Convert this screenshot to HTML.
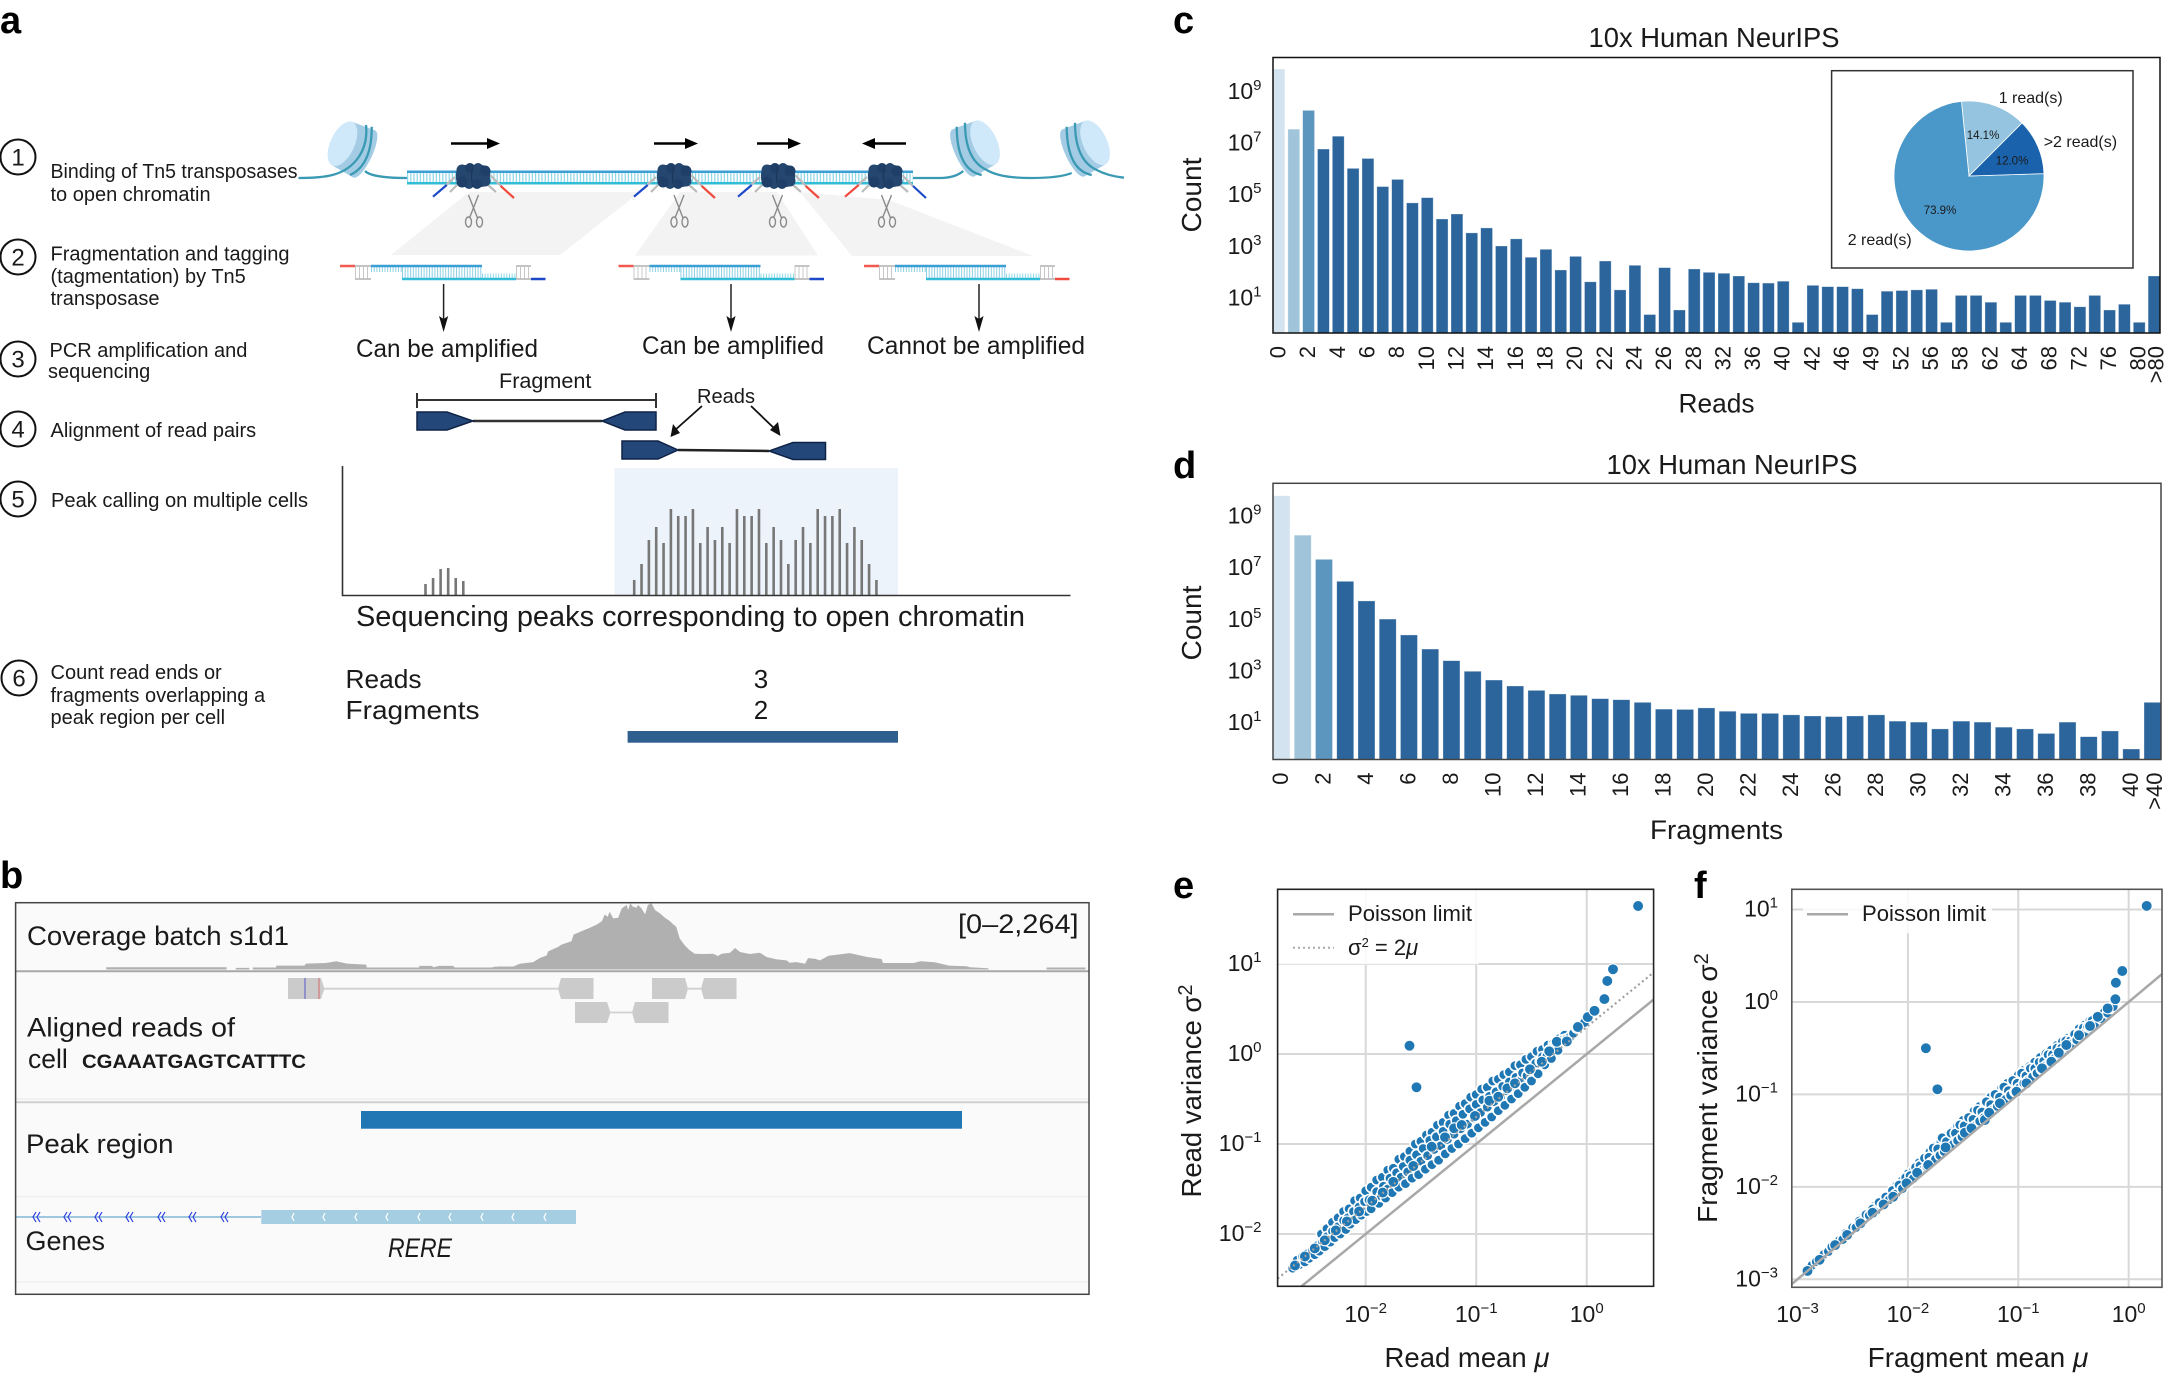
<!DOCTYPE html>
<html lang="en">
<head>
<meta charset="utf-8">
<title>Single-cell ATAC-seq read and fragment counts</title>
<style>
html,body{margin:0;padding:0;background:#fff;width:2167px;height:1374px;overflow:hidden}
svg{position:absolute;left:0;top:0;display:block}
text{font-family:"Liberation Sans",sans-serif;fill:#1a1a1a}
.ps{font-size:20px}
.lb{font-size:38px;font-weight:bold;fill:#000}
.big{font-size:24.7px}
.igv{font-size:26.5px}
</style>
</head>
<body>
<svg id="fig" xmlns="http://www.w3.org/2000/svg" width="2167" height="1374" viewBox="0 0 2167 1374">
<defs>
<g id="tn5-blob">
  <rect x="-17" y="-11" width="34" height="22" rx="9" fill="#25476f"/>
  <circle cx="-11" cy="-6" r="5.500" fill="#25476f"/><circle cx="-3" cy="-8" r="5" fill="#1f3f68"/>
  <circle cx="5" cy="-8" r="5" fill="#25476f"/><circle cx="12" cy="-5" r="5.500" fill="#1f3f68"/>
  <circle cx="12" cy="5" r="5.500" fill="#25476f"/><circle cx="4" cy="8" r="5" fill="#1f3f68"/>
  <circle cx="-4" cy="8" r="5" fill="#25476f"/><circle cx="-11" cy="6" r="5.500" fill="#1f3f68"/>
  <path d="M0-10Q-3 0 0 11" stroke="#1a3558" stroke-width="1" fill="none"/>
</g>
<g id="scissors" fill="none" stroke="#8a8a8a" stroke-width="1.400">
  <path d="M-5-16L4 7M5-16L-4 7"/><ellipse cx="-5" cy="11" rx="3" ry="5"/><ellipse cx="6" cy="11" rx="3" ry="5"/>
</g>
<g id="fragment-body">
  <path d="M15 0H31M15 13H31M176 0H191M176 13H191" stroke="#c4c4c4" stroke-width="2"/>
  <path d="M15 6.500H31M176 6.500H191" stroke="#c8c8c8" stroke-width="11" stroke-dasharray="1 3"/>
  <path d="M31 3.500H62" stroke="#8fd0e6" fill="none" stroke-width="5" stroke-dasharray="1 1.700"/>
  <path d="M62 6.500H142" stroke="#8fd0e6" stroke-width="11" stroke-dasharray="1 1.700"/>
  <path d="M142 10H176" stroke="#8fdbe6" stroke-width="5" stroke-dasharray="1 1.700"/>
  <path d="M31 0H142" stroke="#3b9fd6" stroke-width="2.500"/>
  <path d="M62 13H176" stroke="#33bcd6" stroke-width="2.500"/>
  <path d="M0 0H15" stroke="#f15a4f" stroke-width="2.500"/>
</g>
<g id="nucleosome-body">
  <path d="M-10-24L14-26A8 26 0 0 1 14 26L-10 24Z" fill="#a3cce4"/>
  <ellipse cx="-10" cy="0" rx="12" ry="24" fill="#cfe9fa"/>
</g>
</defs>

<!-- PANEL A -->
<g id="panel-a">
<text class="lb" x="0" y="33">a</text>
<g fill="none" stroke="#111" stroke-width="2">
  <circle cx="18" cy="157" r="17.500"/><circle cx="18" cy="257" r="17.500"/><circle cx="18" cy="359" r="17.500"/>
  <circle cx="18" cy="429" r="17.500"/><circle cx="18" cy="499" r="17.500"/><circle cx="19" cy="678" r="17.500"/>
</g>
<g font-size="24" text-anchor="middle">
  <text x="18" y="165.500">1</text><text x="18" y="265.500">2</text><text x="18" y="367.500">3</text>
  <text x="18" y="437.500">4</text><text x="18" y="507.500">5</text><text x="19" y="686.500">6</text>
</g>
<g class="ps">
  <text class="ps" x="50.500" y="178" textLength="247" lengthAdjust="spacingAndGlyphs">Binding of Tn5 transposases</text>
  <text class="ps" x="50.500" y="201">to open chromatin</text>
  <text class="ps" x="50.500" y="260.500">Fragmentation and tagging</text>
  <text class="ps" x="50.500" y="283">(tagmentation) by Tn5</text>
  <text class="ps" x="50.500" y="305">transposase</text>
  <text class="ps" x="49.500" y="357">PCR amplification and</text>
  <text class="ps" x="48" y="378">sequencing</text>
  <text class="ps" x="50.500" y="437">Alignment of read pairs</text>
  <text class="ps" x="51" y="507" textLength="257" lengthAdjust="spacingAndGlyphs">Peak calling on multiple cells</text>
  <text class="ps" x="50.500" y="679">Count read ends or</text>
  <text class="ps" x="50.500" y="702">fragments overlapping a</text>
  <text class="ps" x="50.500" y="724">peak region per cell</text>
</g>

<g fill="#f3f3f3">
  <polygon points="469,192 640,192 560,255 391,255"/>
  <polygon points="680,192 777,192 818,255.500 635,255.500"/>
  <polygon points="800,192 889,200 1033,256 852,256"/>
</g>

<use href="#nucleosome-body" transform="translate(351.500 148) rotate(25)"/>
<use href="#nucleosome-body" transform="translate(976 147) scale(-1 1) rotate(25)"/>
<use href="#nucleosome-body" transform="translate(1086 147) scale(-1 1) rotate(25)"/>
<g fill="none" stroke="#3a9ab3" stroke-width="2.300">
  <path d="M298.500 178C325 178 345 176 358 158Q368 144 366 125"/>
  <path d="M371.700 126.700Q372 165 350 175"/>
  <path d="M365 171Q372 178 407 178"/>
  <path d="M913 178H940Q955 178 963.300 171"/>
  <path d="M956.700 126.700Q957 170 981.700 175"/>
  <path d="M965 122.700Q965 160 986.700 170Q1000 178 1030 178Q1060 178 1071.700 173"/>
  <path d="M1066.700 126.700Q1067 170 1091.700 175"/>
  <path d="M1075 122.700Q1075 160 1096.700 170Q1108 176 1124 177.700"/>
</g>

<g>
  <path d="M407 177.500H913" stroke="#8fd6e8" stroke-width="10" stroke-dasharray="1.200 2"/>
  <path d="M407 171.700H913" stroke="#3b9fd6" stroke-width="2.500"/>
  <path d="M407 183.300H913" stroke="#33bcd6" stroke-width="2.500"/>
</g>
<g fill="none" stroke-width="2.200">
  <path d="M455 177L446 185M457 185L450 192M490 175L501 186M488 185L496 192M656 177L647 185M658 185L651 192M691 175L702 186M689 185L697 192M760 177L751 185M762 185L755 192M795 175L806 186M793 185L801 192M867 177L858 185M869 185L862 192M902 175L913 186M900 185L908 192" stroke="#bbb"/>
  <path d="M446.700 185L433 196.700M647.700 185L634 196.700M751.700 185L738 196.700M913 186L926 198" stroke="#1c49c8"/>
  <path d="M500.700 186L514 198M701.700 186L715 198M805.700 186L819 198M858.700 185L845 196.700" stroke="#ef4b3e"/>
</g>
<use href="#tn5-blob" x="473" y="176"/>
<use href="#tn5-blob" x="674" y="176"/>
<use href="#tn5-blob" x="778" y="176"/>
<use href="#tn5-blob" x="885" y="176"/>
<use href="#scissors" x="473.500" y="211"/>
<use href="#scissors" x="679" y="211"/>
<use href="#scissors" x="777.500" y="211"/>
<use href="#scissors" x="886.500" y="211"/>
<g fill="#000" stroke="none">
  <path d="M451 142.300H487V138L500 143.500L487 149V144.700H451Z"/>
  <path d="M654 142.300H685V138L698 143.500L685 149V144.700H654Z"/>
  <path d="M757 142.300H788V138L801 143.500L788 149V144.700H757Z"/>
  <path d="M906 142.300H875V138L862 143.500L875 149V144.700H906Z"/>
</g>

<use href="#fragment-body" x="340" y="266"/>
<use href="#fragment-body" x="618.500" y="266"/>
<use href="#fragment-body" x="864" y="266"/>
<path d="M531 279H545.500M809.500 279H824" stroke="#1c49c8" stroke-width="2.500"/>
<path d="M1055 279H1069.500" stroke="#ef4b3e" stroke-width="2.500"/>
<g>
  <path d="M443.600 284V320M731 284V320M979 284V320" stroke="#222" stroke-width="1.500"/>
  <path d="M439 316L443.600 332L448.200 316L443.600 319ZM726.400 316L731 332L735.600 316L731 319ZM974.400 316L979 332L983.600 316L979 319Z" fill="#111"/>
</g>
<text class="big" x="356" y="357" textLength="182" lengthAdjust="spacingAndGlyphs">Can be amplified</text>
<text class="big" x="642" y="354" textLength="182" lengthAdjust="spacingAndGlyphs">Can be amplified</text>
<text class="big" x="867" y="354" textLength="218" lengthAdjust="spacingAndGlyphs">Cannot be amplified</text>

<text x="499" y="388" font-size="21.600" textLength="92.400" lengthAdjust="spacingAndGlyphs">Fragment</text>
<path d="M417 393V408M656 393V408M417 400H656" stroke="#333" stroke-width="2" fill="none"/>
<g>
  <path d="M473 421H602" stroke="#333" stroke-width="2.500"/>
  <path d="M417 412H447L473 421L447 430H417Z M656 412H625L602 421L625 430H656Z" fill="#24477a" stroke="#0f2346" stroke-width="1.500"/>
</g>
<text x="697" y="403" font-size="20.500" textLength="58" lengthAdjust="spacingAndGlyphs">Reads</text>
<g>
  <path d="M678 450L769 451" stroke="#222" stroke-width="2.500"/>
  <path d="M622 441H658L678 450L658 459H622Z M825.500 442.500H793L769 451L793 459.500H825.500Z" fill="#24477a" stroke="#0f2346" stroke-width="1.500"/>
</g>
<g stroke="#111" stroke-width="1.800" fill="#111">
  <path d="M702 406L674 431" fill="none"/><path d="M670.500 437L673 424L680 433Z" stroke="none"/>
  <path d="M751 406L777 431" fill="none"/><path d="M780.500 436L770 430L778 422Z" stroke="none"/>
</g>

<g id="peak-chart"></g>
<text x="356" y="626" font-size="28.500" textLength="669" lengthAdjust="spacingAndGlyphs">Sequencing peaks corresponding to open chromatin</text>
<text x="345.500" y="688" font-size="26" textLength="76" lengthAdjust="spacingAndGlyphs">Reads</text>
<text x="345.500" y="719" font-size="26" textLength="134" lengthAdjust="spacingAndGlyphs">Fragments</text>
<text x="761" y="688" font-size="26" text-anchor="middle">3</text>
<text x="761" y="719" font-size="26" text-anchor="middle">2</text>
<rect x="627.600" y="731" width="270.400" height="11.700" fill="#2e5f8e"/>
</g>

<!-- PANEL B -->
<g id="panel-b">
<text class="lb" x="0" y="888">b</text>
<rect x="15.600" y="902.700" width="1073.400" height="391.600" fill="#fafafa"/>
<path id="coverage-area" fill="#b0b0b0"/>
<g fill="none">
  <path d="M15.600 971.300H1089" stroke="#a8a8a8" stroke-width="2"/>
  <path d="M15.600 1099H1089" stroke="#eeeeee" stroke-width="1.500"/>
  <path d="M15.600 1102.300H1089" stroke="#cfcfcf" stroke-width="2"/>
  <path d="M15.600 1196.700H1089" stroke="#f0f0f0" stroke-width="1.500"/>
  <path d="M15.600 1282H1089" stroke="#f0f0f0" stroke-width="1.500"/>
</g>
<g>
  <path d="M324 988.700H558M688 988.700H701M610.500 1012.500H632" stroke="#d0d0d0" stroke-width="1.800"/>
  <path d="M288 978H321L324.400 988.700L321 999H288Z M561 978H593.500V999H561L558 988.700Z M652 978H685L688 988.700L685 999H652Z M704 978H736.500V999H704L701 988.700Z M575 1002H607L610.500 1012.500L607 1023H575Z M635 1002H668.500V1023H635L632 1012.500Z" fill="#cbcbcb"/>
  <path d="M305 978V999" stroke="#5a5ac8" stroke-width="1"/>
  <path d="M319 978V999" stroke="#d46a6a" stroke-width="1"/>
</g>
<rect x="361" y="1111" width="601" height="17.700" fill="#2077b4"/>
<g>
  <path d="M15.600 1217H261" stroke="#9fc8e0" stroke-width="2"/>
  <path d="M36 1212L33 1217L36 1222M40 1212L37 1217L40 1222M67 1212L64 1217L67 1222M71 1212L68 1217L71 1222M98 1212L95 1217L98 1222M102 1212L99 1217L102 1222M129 1212L126 1217L129 1222M133 1212L130 1217L133 1222M161 1212L158 1217L161 1222M165 1212L162 1217L165 1222M192 1212L189 1217L192 1222M196 1212L193 1217L196 1222M224 1212L221 1217L224 1222M228 1212L225 1217L228 1222" fill="none" stroke="#2b3fe0" stroke-width="1.200"/>
  <rect x="261.300" y="1210" width="314.700" height="14" fill="#a6cee3"/>
  <path d="M294 1213L292 1217L294 1221M325 1213L323 1217L325 1221M357 1213L355 1217L357 1221M388 1213L386 1217L388 1221M420 1213L418 1217L420 1221M451 1213L449 1217L451 1221M483 1213L481 1217L483 1221M514 1213L512 1217L514 1221M546 1213L544 1217L546 1221" fill="none" stroke="#fff" stroke-width="1.200"/>
</g>
<rect x="15.600" y="902.700" width="1073.400" height="391.600" fill="none" stroke="#444" stroke-width="1.500"/>
<text class="igv" x="27" y="945" textLength="262" lengthAdjust="spacingAndGlyphs">Coverage batch s1d1</text>
<text class="igv" x="958" y="933" textLength="120.600" lengthAdjust="spacingAndGlyphs">[0–2,264]</text>
<text class="igv" x="27" y="1036.700" textLength="208" lengthAdjust="spacingAndGlyphs">Aligned reads of</text>
<text class="igv" x="28" y="1068">cell</text>
<text x="82" y="1068" font-size="19.600" font-weight="bold" textLength="224" lengthAdjust="spacingAndGlyphs">CGAAATGAGTCATTTC</text>
<text class="igv" x="26" y="1153" textLength="147.500" lengthAdjust="spacingAndGlyphs">Peak region</text>
<text class="igv" x="25.500" y="1250" textLength="79.500" lengthAdjust="spacingAndGlyphs">Genes</text>
<text class="igv" x="388" y="1257" font-style="italic" textLength="64" lengthAdjust="spacingAndGlyphs">RERE</text>
</g>

<text class="lb" x="1173" y="33">c</text>
<text class="lb" x="1173" y="478">d</text>
<text class="lb" x="1173" y="898">e</text>
<text class="lb" x="1694" y="898">f</text>

<g id="panel-c"></g>
<g id="panel-d"></g>
<g id="panel-e"></g>
<g id="panel-f"></g>
</svg>

<script>
/* ---------- DATA ---------- */
var readCounts = [6.4e9,3e7,1.6e8,5.1e6,1.6e7,9.1e5,2.2e6,1.8e5,3.4e5,4.2e4,6.7e4,1.0e4,1.56e4,2900,4500,900,1700,330,670,106,357,37,236,18,161,2,131,3,116,86,79,62,34,33,39,1,27,24,24,20,2,16,17,18,19,1,11,11,6,1,11,11,7,6,4,11,3,5,1,62];
var readTickLabels = ['0','2','4','6','8','10','12','14','16','18','20','22','24','26','28','32','36','40','42','46','49','52','56','58','62','64','68','72','76','80','>80'];
var fragmentCounts = [6.4e9,1.9e8,2.2e7,3.1e6,5.4e5,1.07e5,2.6e4,7400,2630,1020,468,275,186,135,120,89,81,64,35,34,39,29,24,24,21,19,18,19,21,12,11,6,12,11,7,6,4,11,3,5,1,64];
var fragmentTickLabels = ['0','2','4','6','8','10','12','14','16','18','20','22','24','26','28','30','32','34','36','38','40','>40'];
var countTickExponents = [1,3,5,7,9];
var pieLabels = ['1 read(s)','2 read(s)','>2 read(s)'];
var piePercents = [14.1,73.9,12.0];

/* read panel: log10 mean / log10 variance */
var readUpperMeanLog = [-2.40,-2.35,-2.30,-2.25,-2.20,-2.15,-2.10,-2.05,-2.00,-1.95,-1.90,-1.85,-1.80,-1.75,-1.70,-1.65,-1.60,-1.55,-1.50,-1.45,-1.40,-1.35,-1.30,-1.25,-1.20,-1.15,-1.10,-1.05,-1.00,-0.95,-0.90,-0.85,-0.80,-0.75,-0.70,-0.65,-0.60,-0.55,-0.50,-0.45,-0.40,-0.35,-0.30,-0.25,-0.20];
var readUpperVarLog = [-2.00,-1.94,-1.87,-1.82,-1.75,-1.72,-1.63,-1.60,-1.52,-1.48,-1.40,-1.37,-1.29,-1.27,-1.17,-1.14,-1.08,-1.00,-0.97,-0.90,-0.87,-0.79,-0.76,-0.68,-0.66,-0.58,-0.55,-0.48,-0.45,-0.39,-0.37,-0.30,-0.28,-0.23,-0.20,-0.13,-0.12,-0.06,-0.03,0.03,0.05,0.10,0.12,0.17,0.21];
var readMeanLog = [-2.66,-2.64,-2.62,-2.60,-2.57,-2.55,-2.53,-2.51,-2.48,-2.46,-2.44,-2.42,-2.39,-2.37,-2.35,-2.32,-2.30,-2.28,-2.25,-2.23,-2.20,-2.18,-2.16,-2.14,-2.11,-2.09,-2.06,-2.04,-2.01,-1.99,-1.97,-1.95,-1.93,-1.90,-1.88,-1.86,-1.84,-1.82,-1.80,-1.78,-1.76,-1.74,-1.72,-1.70,-1.68,-1.66,-1.64,-1.62,-1.60,-1.58,-1.56,-1.54,-1.52,-1.50,-1.48,-1.46,-1.44,-1.42,-1.40,-1.38,-1.36,-1.34,-1.32,-1.30,-1.28,-1.26,-1.24,-1.22,-1.20,-1.18,-1.16,-1.14,-1.12,-1.10,-1.08,-1.06,-1.04,-1.02,-1.00,-0.98,-0.96,-0.94,-0.92,-0.90,-0.88,-0.86,-0.84,-0.82,-0.80,-0.78,-0.76,-0.74,-0.72,-0.70,-0.68,-0.66,-0.64,-0.62,-0.60,-0.58,-0.56,-0.54,-0.52,-0.50,-0.48,-0.46,-0.44,-0.42,-0.40,-0.38,-0.36,-0.34,-0.32,-0.30,-0.28,-0.26,-0.24,-0.21,-0.18,-0.15,-0.12,-0.09,-0.06,-0.02];
var readVarLog = [-2.38,-2.35,-2.29,-2.34,-2.25,-2.31,-2.22,-2.27,-2.18,-2.23,-2.13,-2.19,-2.09,-2.14,-2.03,-2.09,-1.97,-2.04,-1.92,-2.00,-1.85,-1.95,-1.82,-1.89,-1.75,-1.84,-1.70,-1.79,-1.64,-1.75,-1.62,-1.72,-1.63,-1.53,-1.66,-1.58,-1.47,-1.60,-1.50,-1.38,-1.54,-1.43,-1.32,-1.48,-1.37,-1.25,-1.44,-1.31,-1.18,-1.38,-1.24,-1.12,-1.34,-1.19,-1.05,-1.28,-1.13,-0.96,-1.23,-1.06,-0.92,-1.18,-1.02,-0.86,-1.11,-0.95,-0.78,-1.05,-0.89,-0.74,-1.00,-0.83,-0.67,-0.94,-0.78,-0.61,-0.88,-0.71,-0.56,-0.82,-0.65,-0.51,-0.76,-0.59,-0.47,-0.70,-0.53,-0.42,-0.63,-0.48,-0.36,-0.57,-0.41,-0.31,-0.50,-0.36,-0.26,-0.44,-0.30,-0.21,-0.37,-0.24,-0.17,-0.30,-0.15,-0.10,-0.22,-0.08,-0.03,-0.12,-0.02,0.04,-0.05,0.08,0.12,0.04,0.14,0.16,0.17,0.19,0.23,0.29,0.31,0.35];
var readTopMeanLog = [-2.64,-2.55,-2.46,-2.37,-2.27,-2.17,-2.06,-1.94,-1.846,-1.75,-1.569,-1.403,-1.282,-1.20,-1.131,-1.011,-0.881,-0.80,-0.718,-0.649,-0.513,-0.407,-0.34,-0.271,-0.18,-0.08,0.01,0.07,0.16,0.186,0.238,0.465,-1.604,-1.54];
var readTopVarLog = [-2.35,-2.25,-2.16,-2.07,-1.96,-1.86,-1.75,-1.63,-1.54,-1.42,-1.244,-1.03,-0.926,-0.826,-0.789,-0.689,-0.519,-0.474,-0.381,-0.326,-0.17,-0.085,0.03,0.137,0.14,0.30,0.41,0.48,0.61,0.811,0.941,1.644,0.092,-0.37];

/* fragment panel: log10 mean / log10 variance */
var fragUpperMeanLog = [-2.50,-2.40,-2.30,-2.20,-2.10,-2.05,-2.00,-1.95,-1.90,-1.85,-1.80,-1.75,-1.70,-1.65,-1.60,-1.55,-1.50,-1.45,-1.40,-1.35,-1.30,-1.25,-1.20,-1.15,-1.10,-1.05,-1.00,-0.95,-0.90,-0.85,-0.80,-0.75,-0.70,-0.65,-0.60,-0.55,-0.50,-0.45,-0.40,-0.35];
var fragUpperVarLog = [-2.43,-2.32,-2.21,-2.10,-1.98,-1.93,-1.86,-1.82,-1.74,-1.70,-1.62,-1.56,-1.51,-1.45,-1.40,-1.34,-1.28,-1.24,-1.18,-1.13,-1.08,-1.03,-0.98,-0.93,-0.88,-0.83,-0.79,-0.74,-0.70,-0.65,-0.60,-0.56,-0.52,-0.47,-0.43,-0.39,-0.34,-0.29,-0.25,-0.20];
var fragMeanLog = [-2.87,-2.83,-2.76,-2.72,-2.69,-2.62,-2.59,-2.56,-2.53,-2.50,-2.47,-2.44,-2.41,-2.38,-2.35,-2.32,-2.29,-2.26,-2.23,-2.20,-2.17,-2.14,-2.11,-2.08,-2.05,-2.02,-2.00,-1.98,-1.95,-1.93,-1.91,-1.89,-1.87,-1.85,-1.83,-1.81,-1.79,-1.77,-1.75,-1.73,-1.71,-1.69,-1.67,-1.65,-1.63,-1.61,-1.59,-1.57,-1.55,-1.53,-1.51,-1.49,-1.47,-1.45,-1.43,-1.41,-1.39,-1.37,-1.35,-1.33,-1.31,-1.29,-1.27,-1.25,-1.23,-1.21,-1.19,-1.17,-1.15,-1.13,-1.11,-1.09,-1.07,-1.05,-1.03,-1.01,-0.99,-0.97,-0.95,-0.93,-0.91,-0.89,-0.87,-0.85,-0.83,-0.81,-0.79,-0.77,-0.75,-0.73,-0.71,-0.69,-0.67,-0.65,-0.63,-0.61,-0.59,-0.57,-0.55,-0.53,-0.51,-0.49,-0.47,-0.45,-0.43,-0.41,-0.39,-0.37,-0.35,-0.33,-0.31,-0.28,-0.25,-0.22,-0.19,-0.16,-0.14];
var fragVarLog = [-2.85,-2.81,-2.73,-2.70,-2.65,-2.58,-2.57,-2.50,-2.50,-2.44,-2.44,-2.37,-2.38,-2.30,-2.31,-2.24,-2.26,-2.17,-2.20,-2.11,-2.14,-2.04,-2.08,-1.98,-2.02,-1.90,-1.96,-1.88,-1.91,-1.79,-1.85,-1.77,-1.82,-1.69,-1.78,-1.68,-1.74,-1.58,-1.70,-1.59,-1.66,-1.47,-1.62,-1.51,-1.58,-1.42,-1.54,-1.42,-1.50,-1.33,-1.46,-1.34,-1.42,-1.25,-1.38,-1.27,-1.34,-1.17,-1.29,-1.19,-1.25,-1.08,-1.21,-1.11,-1.17,-1.00,-1.13,-1.03,-1.09,-0.92,-1.05,-0.96,-1.01,-0.85,-0.97,-0.88,-0.93,-0.77,-0.88,-0.80,-0.85,-0.72,-0.81,-0.72,-0.77,-0.65,-0.73,-0.64,-0.69,-0.57,-0.65,-0.57,-0.61,-0.50,-0.57,-0.50,-0.53,-0.42,-0.49,-0.42,-0.45,-0.35,-0.41,-0.34,-0.37,-0.28,-0.33,-0.27,-0.28,-0.20,-0.24,-0.16,-0.18,-0.11,-0.12,-0.07,-0.05];
var fragTopMeanLog = [-2.91,-2.80,-2.66,-2.55,-2.43,-2.32,-2.22,-2.133,-2.012,-1.916,-1.816,-1.659,-1.484,-1.424,-1.303,-1.264,-1.167,-1.016,-0.926,-0.785,-0.70,-0.633,-0.564,-0.45,-0.35,-0.28,-0.19,-0.12,-0.116,-0.058,0.163,-1.837,-1.733];
var fragTopVarLog = [-2.91,-2.79,-2.63,-2.52,-2.395,-2.28,-2.19,-2.107,-1.962,-1.847,-1.764,-1.573,-1.414,-1.367,-1.277,-1.198,-1.096,-0.971,-0.88,-0.718,-0.646,-0.549,-0.465,-0.36,-0.26,-0.16,-0.07,0.03,0.209,0.335,1.039,-0.50,-0.945];

var peakSmallHeights = [11,17,26,27,17,14];
var peakLargeHeights = [15,31,55,68,52,86,79,79,86,52,68,55,68,52,86,79,79,86,52,68,55,31,55,68,52,86,79,79,86,52,68,55,31,15];

var coveragePositions = [150,320,320,333,333,352,352,357,357,390,390,430,432,460,475,490,517,518,592,592,610,612,620,640,642,695,697,706,725,734,753,762,772,774,788,793,807,810,821,833,843,850,854,858,861,866,873,878,885,887,890,894,899,901,906,911,915,920,925,932,939,946,951,955,960,967,974,981,993,1007,1014,1019,1031,1038,1045,1059,1073,1083,1097,1111,1115,1125,1137,1141,1151,1158,1170,1200,1225,1245,1247,1290,1300,1320,1340,1365,1370,1395,1397,1478,1478,1533,1533];
var coverageDepths = [78,78,0,0,56,56,0,0,67,67,134,134,202,224,280,202,168,67,67,123,123,78,123,123,67,67,90,103,103,195,253,391,483,620,770,850,965,1195,1310,1425,1540,1655,1884,1804,1976,1746,1769,2091,2206,2034,2264,2149,2114,2206,2091,1884,2206,2264,2034,1919,1769,1655,1540,1459,1057,827,655,540,529,540,460,540,575,735,597,529,575,425,345,310,230,253,195,391,368,310,470,560,426,358,224,224,280,246,134,112,78,45,0,0,67,67,0];

/* ---------- HELPERS ---------- */
var NS = 'http://www.w3.org/2000/svg';
function mk(parent, tag){
  var el = document.createElementNS(NS, tag);
  parent.appendChild(el);
  return el;
}
function set(el, props){
  for (var k in props) el.setAttribute(k, props[k]);
  return el;
}
function linear(d0, d1, r0, r1){
  return function(v){ return r0 + (v - d0) * (r1 - r0) / (d1 - d0); };
}
function sciText(parent, x, y, exp, anchor){
  var t = mk(parent, 'text');
  set(t, {x:x, y:y, 'font-size':23, 'text-anchor':anchor});
  var b = mk(t, 'tspan');
  b.textContent = '10';
  var s = mk(t, 'tspan');
  set(s, {dy:-9, 'font-size':15});
  s.textContent = String(exp).replace('-', '\u2212');
  return t;
}

/* ---------- PEAK CHART (panel a) ---------- */
(function(){
  var g = document.getElementById('peak-chart');
  var bg = mk(g, 'rect');
  set(bg, {x:614.5, y:468, width:283.5, height:127, fill:'#edf3fb'});
  
  
  var baseY = 595;
  function drawPeak(values, x0, step){
    values.forEach(function(v, i){
      var b = mk(g, 'rect');
      set(b, {x:x0 + i * step - 1.3, y:baseY - v, width:2.6, height:v, fill:'#777'});
      
      
    });
  }
  drawPeak(peakSmallHeights, 425.5, 7.56);
  drawPeak(peakLargeHeights, 634.2, 7.34);
  var ax = mk(g, 'path');
  set(ax, {d:'M342.5 466V595.5H1070.5', fill:'none', stroke:'#333', 'stroke-width':1.6});
  
  
})();

/* ---------- COVERAGE (panel b) ---------- */
(function(){
  var xs = linear(0, 1110, 0, 786);
  var ys = linear(0, 2264, 969.5, 903.3);
  var d = 'M' + xs(coveragePositions[0]) + ' ' + ys(0);
  coveragePositions.forEach(function(p, i){
    d += 'L' + xs(p).toFixed(1) + ' ' + ys(coverageDepths[i]).toFixed(1);
  });
  d += 'Z';
  document.getElementById('coverage-area').setAttribute('d', d);
})();

/* ---------- BAR CHARTS ---------- */
function barChart(g, o){
  var n = o.counts.length;
  var band = (o.x1 - o.x0) / (n - 0.2);
  var y = linear(0, 1, o.yOne, o.yOne - 25.83);
  function cx(i){ return o.x0 + (i + 0.4) * band; }
  o.counts.forEach(function(c, i){
    var top = y(Math.log10(c));
    var r = mk(g, 'rect');
    set(r, {x:cx(i) - 0.4 * band, y:top, width:0.8 * band, height:o.y1 - top,
      fill: i === 0 ? '#d3e3f0' : i === 1 ? '#a0c5da' : i === 2 ? '#5c95bd' : '#2b659c',
      stroke:'#fff', 'stroke-opacity':0.45, 'stroke-width':0.7});
    
    
  });
  var fr = mk(g, 'rect');
  set(fr, {x:o.x0, y:o.y0, width:o.x1 - o.x0, height:o.y1 - o.y0, fill:'none', stroke:o.frame, 'stroke-width':1.5});
  
  
  countTickExponents.forEach(function(e){
    var t = sciText(g, 1261.5, y(e) + o.tickDy, e, 'end');
    
    
  });
  var last = o.tickLabels.length - 1;
  o.tickLabels.forEach(function(l, i){
    var idx = i === last ? n - 1 : i * 2;
    var bx = cx(idx) + 7.5 + (i === last ? 2 : -1);
    var t = mk(g, 'text');
    set(t, {x:bx, y:o.y1 + 13, 'font-size':22, 'text-anchor':'end', transform:'rotate(-90 ' + bx + ' ' + (o.y1 + 13) + ')'});
    t.textContent = l;
    
    
  });
  var ti = mk(g, 'text');
  set(ti, {x:o.titleX, y:o.titleY, 'font-size':27.5, 'text-anchor':'middle', textLength:251, lengthAdjust:'spacingAndGlyphs'});
  ti.textContent = '10x Human NeurIPS';
  
  
  var yl = mk(g, 'text');
  set(yl, {x:1201, y:o.countY, 'font-size':28, 'text-anchor':'middle', transform:'rotate(-90 1201 ' + o.countY + ')'});
  yl.textContent = 'Count';
  
  
  var xl = mk(g, 'text');
  set(xl, {x:1716.5, y:o.xlabelY, 'font-size':27, 'text-anchor':'middle', textLength:o.xlabelLen, lengthAdjust:'spacingAndGlyphs'});
  xl.textContent = o.xlabel;
  
  
}
barChart(document.getElementById('panel-c'), {counts:readCounts, tickLabels:readTickLabels, x0:1273, x1:2160, y0:57.5, y1:333, yOne:322.3, frame:'#111', titleX:1714, titleY:47, tickDy:9, countY:195, xlabel:'Reads', xlabelY:412.7, xlabelLen:76});
barChart(document.getElementById('panel-d'), {counts:fragmentCounts, tickLabels:fragmentTickLabels, x0:1273, x1:2161, y0:483.3, y1:759.5, yOne:749, frame:'#444', titleX:1732, titleY:474, tickDy:7, countY:623, xlabel:'Fragments', xlabelY:839, xlabelLen:133});

/* ---------- PIE (panel c inset) ---------- */
(function(){
  var g = mk(document.getElementById('panel-c'), 'g');
  
  
  var box = mk(g, 'rect');
  set(box, {x:1831.6, y:70.7, width:301.4, height:197.3, fill:'#fff', stroke:'#333', 'stroke-width':1.5});
  
  
  var cx = 1969, cy = 176, r = 75;
  var colors = ['#94c4df', '#4a97c9', '#1a63ac'];
  var labelPos = [[1998.7,103,1983,139],[1847.7,245,1940,214],[2043.7,147,2012,164.5]];
  var a = 45;
  piePercents.forEach(function(p, i){
    var a2 = a + p * 3.6;
    var r1 = a * Math.PI / 180, r2 = a2 * Math.PI / 180;
    var d = 'M' + cx + ' ' + cy + 'L' + (cx + r * Math.cos(r1)).toFixed(2) + ' ' + (cy - r * Math.sin(r1)).toFixed(2) +
      'A' + r + ' ' + r + ' 0 ' + (p > 50 ? 1 : 0) + ' 0 ' + (cx + r * Math.cos(r2)).toFixed(2) + ' ' + (cy - r * Math.sin(r2)).toFixed(2) + 'Z';
    var s = mk(g, 'path');
    set(s, {d:d, fill:colors[i], stroke:'#fff', 'stroke-width':0.8});
    
    
    a = a2;
    var lab = mk(g, 'text');
    set(lab, {x:labelPos[i][0], y:labelPos[i][1], 'font-size':16});
    lab.textContent = pieLabels[i];
    
    
    var pct = mk(g, 'text');
    set(pct, {x:labelPos[i][2], y:labelPos[i][3], 'font-size':11.5, 'text-anchor':'middle'});
    pct.textContent = p.toFixed(1) + '%';
    
    
  });
})();

/* ---------- SCATTER ---------- */
function scatter(g, o){
  var xs = linear(o.xlim[0], o.xlim[1], o.x0, o.x1);
  var ys = linear(o.ylim[0], o.ylim[1], o.y1, o.y0);
  var clipId = o.id + '-clip';
  var defs = mk(g, 'clipPath');
  defs.setAttribute('id', clipId);
  var cr = mk(defs, 'rect');
  set(cr, {x:o.x0, y:o.y0, width:o.x1 - o.x0, height:o.y1 - o.y0});
  var bg = mk(g, 'g');
  bg.setAttribute('clip-path', 'url(#' + clipId + ')');
  
  
  o.xticks.forEach(function(e){
    if (e !== o.noGridX) {
      var l = mk(bg, 'line');
      set(l, {x1:xs(e), x2:xs(e), y1:o.y0, y2:o.y1, stroke:'#d8d8d8', 'stroke-width':2});
      
      
    }
    var t = sciText(g, xs(e), 1322, e, 'middle');
    
    
  });
  o.yticks.forEach(function(e){
    var l = mk(bg, 'line');
    set(l, {x1:o.x0, x2:o.x1, y1:ys(e), y2:ys(e), stroke:'#d8d8d8', 'stroke-width':2});
    
    
    var t = sciText(g, o.ytickX, ys(e) + 7, e, 'end');
    
    
  });
  var lg = mk(bg, 'rect');
  set(lg, {x:o.legBoxX, y:o.y0, width:o.legendW, height:o.legendH, fill:'#fff', 'fill-opacity':0.85});
  
  
  o.upperMeans.forEach(function(m, i){
    var c = mk(bg, 'circle');
    set(c, {cx:xs(m).toFixed(1), cy:ys(o.upperVars[i]).toFixed(1), r:5.2, fill:'#1f77b4', stroke:'#fff', 'stroke-width':1.6});
    
    
  });
  o.means.forEach(function(m, i){
    var c = mk(bg, 'circle');
    set(c, {cx:xs(m).toFixed(1), cy:ys(o.vars[i]).toFixed(1), r:5.2, fill:'#1f77b4', stroke:'#fff', 'stroke-width':1.6});
    
    
  });
  o.topMeans.forEach(function(m, i){
    var c = mk(bg, 'circle');
    set(c, {cx:xs(m).toFixed(1), cy:ys(o.topVars[i]).toFixed(1), r:5.5, fill:'#1f77b4', stroke:'#fff', 'stroke-width':1.1});
    
    
  });
  if (o.twoMu) {
    var twoLine = mk(bg, 'line');
    set(twoLine, {x1:xs(o.xlim[0]), y1:ys(o.xlim[0] + Math.log10(2)), x2:xs(o.xlim[1]), y2:ys(o.xlim[1] + Math.log10(2)), stroke:'#a0a0a0', 'stroke-width':2.2, 'stroke-dasharray':'2 3'});
    
    
  }
  var pl = mk(bg, 'line');
  set(pl, {x1:xs(o.xlim[0]), y1:ys(o.xlim[0]), x2:xs(o.xlim[1]), y2:ys(o.xlim[1]), stroke:'#a8a8a8', 'stroke-width':2.5});
  
  
  var fr = mk(g, 'rect');
  set(fr, {x:o.x0, y:o.y0, width:o.x1 - o.x0, height:o.y1 - o.y0, fill:'none', stroke:o.frame, 'stroke-width':1.6});
  
  
  var ll = mk(g, 'line');
  set(ll, {x1:o.legX, x2:o.legX + 41, y1:914.3, y2:914.3, stroke:'#a8a8a8', 'stroke-width':2.5});
  
  
  var lt = mk(g, 'text');
  set(lt, {x:o.legX + 55, y:921, 'font-size':22, textLength:124, lengthAdjust:'spacingAndGlyphs'});
  lt.textContent = 'Poisson limit';
  
  
  if (o.twoMu) {
    var dl = mk(g, 'line');
    set(dl, {x1:o.legX, x2:o.legX + 41, y1:947.7, y2:947.7, stroke:'#aaa', 'stroke-width':2, 'stroke-dasharray':'2 3'});
    
    
    var dt = mk(g, 'text');
    set(dt, {x:o.legX + 55, y:955, 'font-size':22});
    
    
    var d1 = mk(dt, 'tspan'); d1.textContent = '\u03c3';
    var d2 = mk(dt, 'tspan'); set(d2, {dy:-8, 'font-size':13}); d2.textContent = '2';
    var d3 = mk(dt, 'tspan'); set(d3, {dy:8}); d3.textContent = ' = 2';
    var d4 = mk(dt, 'tspan'); set(d4, {'font-style':'italic'}); d4.textContent = '\u03bc';
  }
  var yl = mk(g, 'text');
  set(yl, {x:o.ylabelX, y:o.ylabelY, 'font-size':o.yFont, 'text-anchor':'middle', transform:'rotate(-90 ' + o.ylabelX + ' ' + o.ylabelY + ')'});
  
  
  var y1 = mk(yl, 'tspan'); y1.textContent = o.ylabel + ' \u03c3';
  var y2 = mk(yl, 'tspan'); set(y2, {dy:-9, 'font-size':20}); y2.textContent = '2';
  var xl = mk(g, 'text');
  set(xl, {x:o.xlabelX, y:1367, 'font-size':o.xFont, 'text-anchor':'middle'});
  
  
  var x1 = mk(xl, 'tspan'); x1.textContent = o.xlabel + ' ';
  var x2 = mk(xl, 'tspan'); set(x2, {'font-style':'italic'}); x2.textContent = '\u03bc';
}
scatter(document.getElementById('panel-e'), {
  id:'read-scatter', upperMeans:readUpperMeanLog, upperVars:readUpperVarLog, means:readMeanLog, vars:readVarLog, topMeans:readTopMeanLog, topVars:readTopVarLog, twoMu:true,
  x0:1277.6, x1:1653.6, y0:889.3, y1:1286.3, xlim:[-2.797,0.605], ylim:[-2.581,1.83],
  xticks:[-2,-1,0], yticks:[-2,-1,0,1], ytickX:1261.5, frame:'#222', legBoxX:1277.6, legendW:201, legendH:75, legX:1293,
  ylabel:'Read variance', ylabelX:1201, ylabelY:1091, yFont:27.5, xlabel:'Read mean', xlabelX:1467, xFont:27.5
});
scatter(document.getElementById('panel-f'), {
  id:'fragment-scatter', upperMeans:fragUpperMeanLog, upperVars:fragUpperVarLog, means:fragMeanLog, vars:fragVarLog, topMeans:fragTopMeanLog, topVars:fragTopVarLog, twoMu:false,
  x0:1791.8, x1:2162, y0:889.3, y1:1287.3, xlim:[-3.052,0.302], ylim:[-3.087,1.219],
  xticks:[-3,-2,-1,0], noGridX:-3, yticks:[-3,-2,-1,0,1], ytickX:1778, frame:'#555', legBoxX:1803, legendW:189, legendH:44, legX:1807,
  ylabel:'Fragment variance', ylabelX:1717, ylabelY:1088, yFont:28, xlabel:'Fragment mean', xlabelX:1978, xFont:28
});
</script>
</body>
</html>
